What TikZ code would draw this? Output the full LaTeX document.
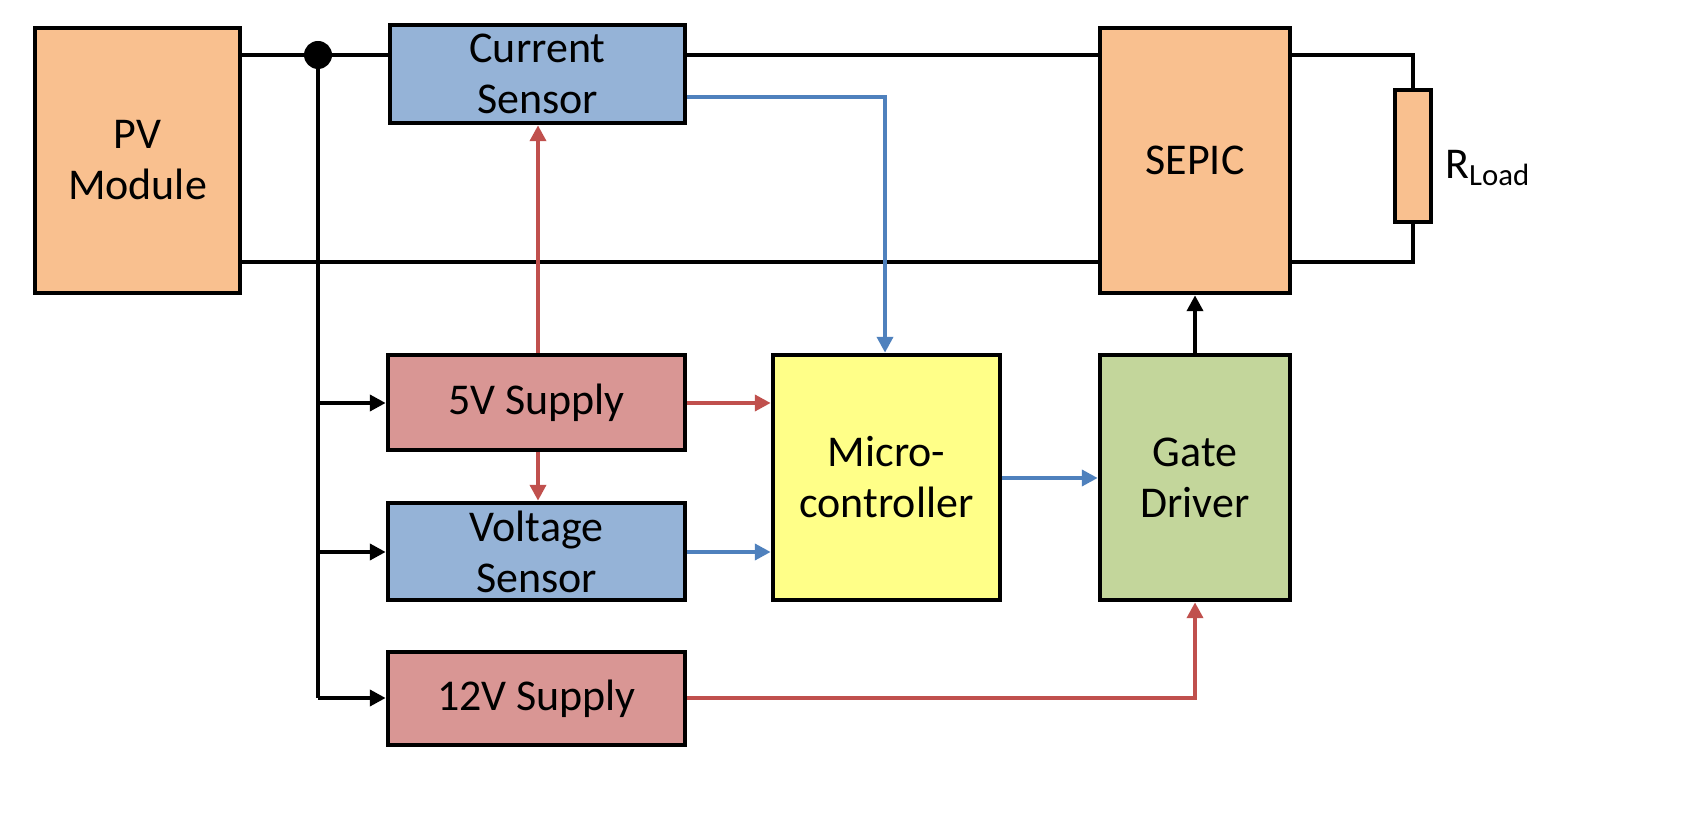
\documentclass[tikz,border=0pt]{standalone}
\usepackage{fontspec}
\setmainfont{Carlito}
\usetikzlibrary{arrows.meta}
\definecolor{orng}{HTML}{F9C08F}
\definecolor{blu}{HTML}{95B3D7}
\definecolor{rd}{HTML}{D99694}
\definecolor{yl}{HTML}{FFFF88}
\definecolor{gr}{HTML}{C3D69B}
\definecolor{rl}{HTML}{C0504D}
\definecolor{bl}{HTML}{4F81BD}
\begin{document}
\begin{tikzpicture}[x=0.01cm,y=-0.01cm,
 box/.style={draw=black,line width=1.3pt,align=center,font=\fontsize{12.5}{14.5}\selectfont,inner sep=0pt},
 w/.style={line width=1.3pt},
 a/.style={line width=1.3pt,-{Triangle[length=4.5pt,width=4.5pt]}}]
\useasboundingbox (0,0) rectangle (1682,828);
\newcommand{\bx}[6]{\node[box,fill=#6,minimum width={(#4-#2)*0.01cm},minimum height={(#5-#3)*0.01cm}] (#1) at ({(#2+#4)/2},{(#3+#5)/2}) {};}
\bx{pv}{35}{28}{240}{293}{orng}
\bx{cs}{390}{25}{685}{123}{blu}
\bx{sep}{1100}{28}{1290}{293}{orng}
\bx{res}{1395}{90}{1431}{222}{orng}
\bx{s5}{388}{355}{685}{450}{rd}
\bx{vs}{388}{503}{685}{600}{blu}
\bx{s12}{388}{652}{685}{745}{rd}
\bx{mc}{773}{355}{1000}{600}{yl}
\bx{gd}{1100}{355}{1290}{600}{gr}
\node[box,draw=none] at (pv) {PV\\Module};
\node[box,draw=none] at (cs) {Current\\Sensor};
\node[box,draw=none] at (sep) {SEPIC};
\node[box,draw=none,anchor=west] at (1443,168) {R\textsubscript{Load}};
\node[box,draw=none] at (s5) {5V Supply};
\node[box,draw=none] at (vs) {Voltage\\Sensor};
\node[box,draw=none] at (s12) {12V Supply};
\node[box,draw=none] at (mc) {Micro-\\controller};
\node[box,draw=none] at (gd) {Gate\\Driver};
\coordinate (dot) at (318,55);
\coordinate (rt) at (1413,55);
\coordinate (rb) at (1413,262);
\draw[w] (pv.east|-dot) -- (cs.west|-dot);
\draw[w] (cs.east|-dot) -- (sep.west|-dot);
\draw[w] (sep.east|-dot) -- (rt) -- (res.north);
\draw[w] (res.south) -- (rb) -- (sep.east|-rb);
\draw[w] (pv.east|-rb) -- (sep.west|-rb);
\fill (dot) circle (14);
\draw[w] (dot) -- (318,698);
\draw[a] (318,403) -- (s5.west|-0,403);
\draw[a] (318,552) -- (vs.west|-0,552);
\draw[a] (318,698) -- (s12.west|-0,698);
\draw[a,rl] (s5.north-|538,0) -- (cs.south-|538,0);
\draw[a,rl] (s5.south-|538,0) -- (vs.north-|538,0);
\draw[a,rl] (s5.east|-0,403) -- (mc.west|-0,403);
\draw[a,rl] (s12.east|-0,698) -| (gd.south-|1195,0);
\draw[a,bl] (cs.east|-0,97) -| (mc.north-|885,0);
\draw[a,bl] (vs.east|-0,552) -- (mc.west|-0,552);
\draw[a,bl] (mc.east|-0,478) -- (gd.west|-0,478);
\draw[a] (gd.north-|1195,0) -- (sep.south-|1195,0);
\end{tikzpicture}
\end{document}
